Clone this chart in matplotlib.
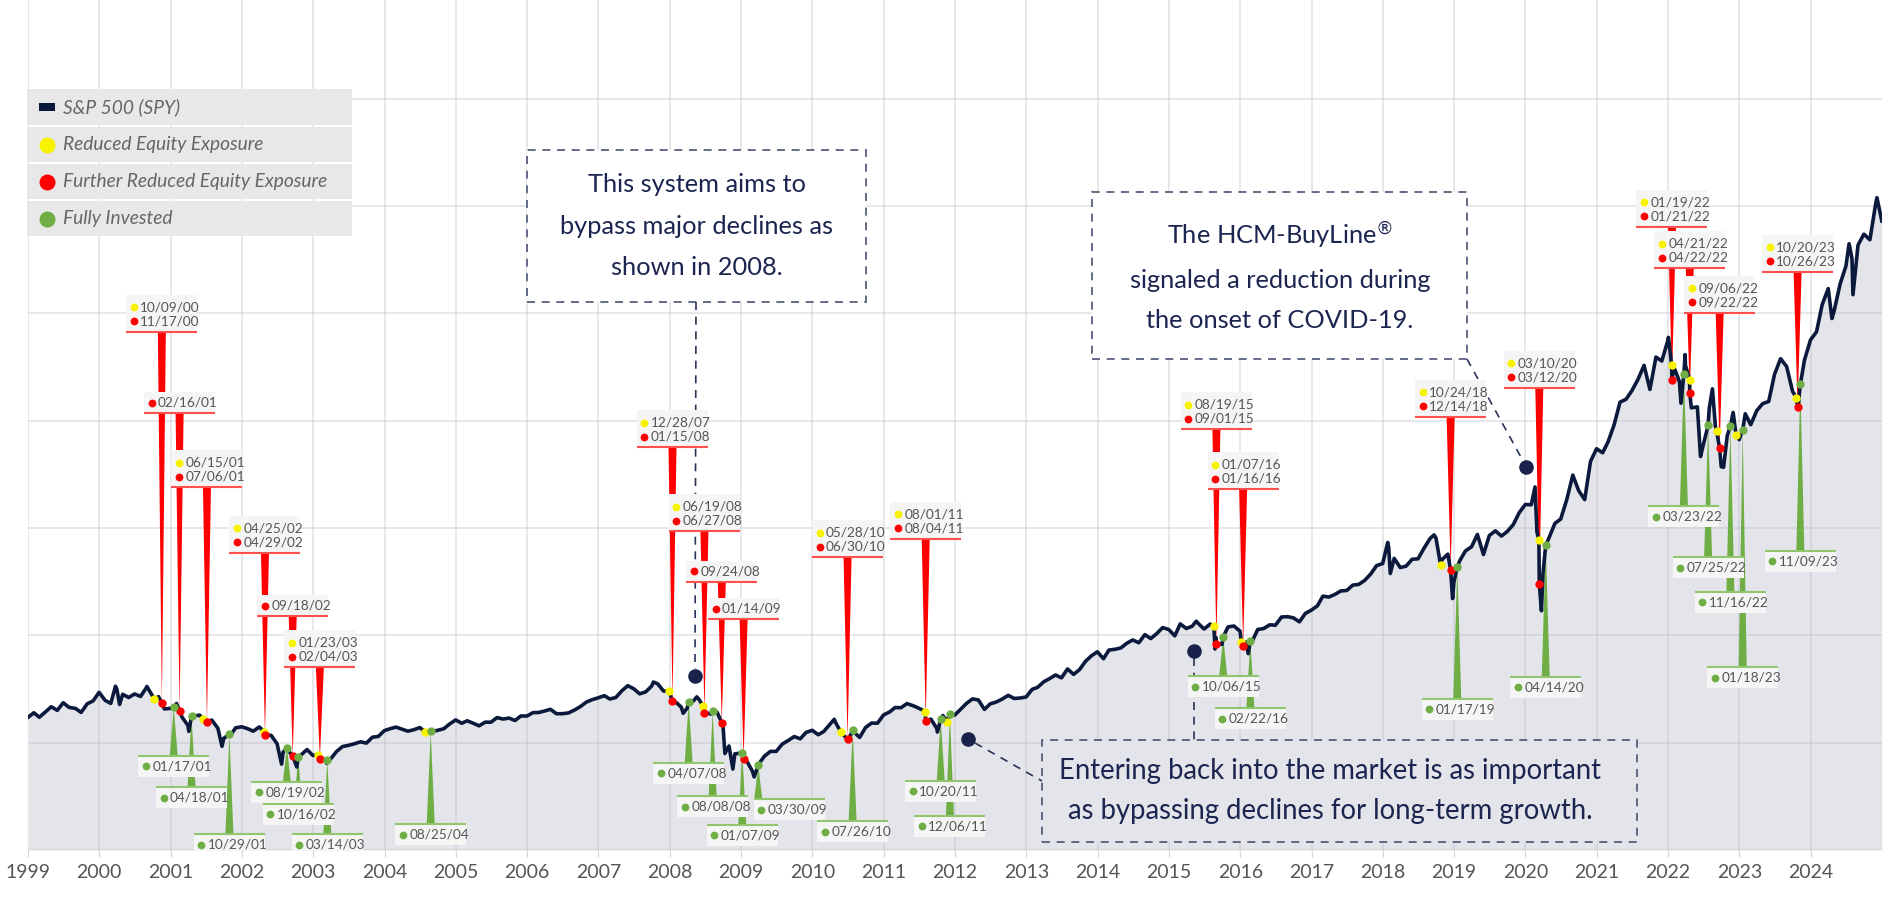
import numpy as np
import pandas as pd
import matplotlib
matplotlib.use('Agg')
import matplotlib.pyplot as plt
from matplotlib.patches import Rectangle, Polygon
from matplotlib.lines import Line2D

plt.rcParams['font.family'] = ['Lato', 'DejaVu Sans']

# ---- S&P 500 (SPY) month-end closes ----
month_end = pd.date_range('1999-01-31', '2024-12-31', freq='ME')
spy_close = [
    127.9, 123.7, 128.6, 133.5, 130.1, 137.2, 132.8, 132.0, 128.2, 136.2, 138.9, 146.9,  # 1999
    139.4, 136.6, 149.9, 145.1, 142.1, 145.4, 143.1, 151.7, 143.6, 142.9, 131.4, 132.0,  # 2000
    136.6, 123.9, 116.0, 124.9, 125.6, 122.4, 121.1, 113.4, 104.1, 106.0, 113.9, 114.8,  # 2001
    113.0, 110.7, 114.7, 107.7, 106.7, 99.0, 91.2, 91.6, 81.5, 88.6, 93.6, 88.0,  # 2002
    85.6, 84.1, 84.8, 91.7, 96.4, 97.5, 99.0, 100.8, 99.6, 105.1, 105.8, 111.2,  # 2003
    113.1, 114.5, 112.6, 110.7, 112.1, 114.1, 110.2, 110.4, 111.5, 113.0, 117.4, 121.2,  # 2004
    118.1, 120.4, 118.1, 115.7, 119.1, 119.1, 123.4, 122.0, 122.9, 120.7, 124.9, 124.8,  # 2005
    128.0, 128.1, 129.5, 131.1, 127.0, 127.0, 127.7, 130.4, 133.6, 137.8, 140.1, 141.8,  # 2006
    143.8, 140.7, 142.1, 148.2, 153.1, 150.3, 145.5, 147.4, 152.7, 154.9, 148.1, 146.8,  # 2007
    137.9, 133.1, 132.3, 138.6, 140.0, 128.0, 126.7, 128.3, 116.6, 96.9, 89.6, 90.3,  # 2008
    82.6, 73.5, 79.8, 87.3, 91.9, 91.9, 98.7, 102.1, 105.7, 103.6, 109.6, 111.5,  # 2009
    107.4, 110.4, 116.9, 118.7, 108.9, 103.1, 110.2, 104.9, 114.1, 118.3, 118.1, 125.8,  # 2010
    128.6, 132.7, 132.6, 136.4, 134.5, 132.1, 129.2, 121.9, 113.2, 125.3, 124.7, 125.8,  # 2011
    131.3, 136.6, 140.8, 139.8, 131.0, 136.2, 137.9, 140.7, 144.1, 141.2, 141.6, 142.6,  # 2012
    149.7, 151.6, 156.7, 159.7, 163.1, 160.4, 168.7, 163.6, 168.0, 175.8, 180.9, 184.7,  # 2013
    178.2, 186.3, 187.0, 188.3, 192.7, 195.7, 193.1, 200.7, 197.0, 201.7, 207.2, 205.5,  # 2014
    199.5, 210.7, 206.4, 208.5, 211.1, 205.9, 210.5, 197.7, 191.6, 207.9, 208.7, 203.9,  # 2015
    193.7, 193.6, 205.5, 206.3, 209.8, 209.5, 217.1, 217.4, 216.3, 212.6, 220.4, 223.5,  # 2016
    227.5, 236.5, 235.7, 238.1, 241.4, 241.8, 246.8, 247.5, 251.2, 257.2, 265.0, 266.9,  # 2017
    281.9, 271.7, 263.2, 264.5, 270.9, 271.3, 281.3, 290.3, 290.7, 270.6, 275.7, 249.9,  # 2018
    270.0, 278.7, 282.5, 294.0, 275.3, 293.0, 297.4, 292.5, 296.8, 303.3, 314.3, 321.9,  # 2019
    321.7, 296.3, 257.8, 290.5, 304.3, 308.4, 326.5, 349.3, 334.9, 326.5, 362.1, 373.9,  # 2020
    370.1, 380.4, 396.3, 417.3, 420.0, 428.1, 438.5, 451.6, 429.1, 459.3, 455.6, 475.0,  # 2021
    449.9, 436.6, 451.6, 412.0, 412.9, 377.3, 412.0, 395.2, 357.2, 386.2, 407.7, 382.4,  # 2022
    406.5, 396.3, 409.4, 415.9, 417.9, 443.3, 457.8, 450.4, 427.5, 418.2, 456.4, 475.3,  # 2023
    482.9, 508.1, 523.1, 502.0, 527.4, 544.2, 550.8, 563.7, 573.8, 568.6, 602.6, 586.1,  # 2024
]

# intra-month highs / lows visible on the line
swing_dates = ['1999-01-04', '2000-03-24', '2000-04-14', '2000-09-01', '2001-04-04',
               '2001-09-21', '2002-07-23', '2002-10-09', '2003-03-11', '2007-10-09',
               '2008-03-10', '2008-05-19', '2008-10-10', '2008-11-20', '2009-03-09',
               '2010-04-23', '2010-07-02', '2011-10-03', '2015-05-21', '2015-08-25',
               '2016-02-11', '2018-01-26', '2018-02-08', '2018-09-20', '2018-12-24',
               '2020-02-19', '2020-03-23', '2022-01-03', '2022-03-08', '2022-03-29',
               '2022-06-16', '2022-08-16', '2022-10-12', '2023-10-27', '2024-04-19',
               '2024-07-16', '2024-08-05', '2024-12-06']
swing_vals = [124.0, 152.6, 135.6, 152.4, 110.5,
              96.6, 80.0, 77.3, 80.7, 156.5,
              127.4, 142.7, 89.9, 75.4, 68.1,
              121.8, 102.1, 109.9, 213.2, 187.3,
              182.9, 286.6, 257.6, 293.6, 234.3,
              338.3, 222.9, 477.7, 416.3, 461.6,
              366.6, 429.7, 356.6, 410.7, 495.2,
              564.9, 517.4, 607.8]

# ---- signals ----
yellow_dates = ['10/09/00', '06/15/01', '04/25/02', '01/23/03', '07/28/04', '12/28/07',
                '06/19/08', '05/28/10', '08/01/11', '11/21/11', '08/19/15', '01/07/16',
                '10/24/18', '03/10/20', '01/19/22', '04/21/22', '09/06/22', '12/15/22',
                '10/20/23']
yellow_vals = [140.5, 121.8, 110.0, 88.9, 110.0, 148.0,
               134.5, 109.5, 128.9, 119.5, 208.5, 194.0,
               265.3, 288.4, 452.0, 438.1, 390.8, 387.0,
               421.2]

red_dates = ['11/17/00', '02/16/01', '07/06/01', '04/29/02', '09/18/02', '02/04/03',
             '01/15/08', '06/27/08', '09/24/08', '01/14/09', '06/30/10', '08/04/11',
             '09/01/15', '01/16/16', '12/14/18', '03/12/20', '01/21/22', '04/22/22',
             '09/22/22', '10/26/23']
red_vals = [136.9, 129.5, 119.5, 106.8, 87.4, 85.1,
            138.5, 128.0, 118.6, 84.4, 103.2, 120.6,
            192.0, 190.0, 260.5, 248.1, 438.0, 426.0,
            374.2, 412.6]

green_dates = ['01/17/01', '04/18/01', '10/29/01', '08/19/02', '10/16/02', '03/14/03',
               '08/25/04', '04/07/08', '08/08/08', '01/07/09', '03/30/09', '07/26/10',
               '10/20/11', '12/06/11', '10/06/15', '02/22/16', '01/17/19', '04/14/20',
               '03/23/22', '07/25/22', '11/16/22', '01/18/23', '11/09/23']
green_vals = [133.0, 124.5, 107.8, 95.5, 86.5, 83.5,
              110.5, 137.9, 129.4, 90.8, 78.8, 111.6,
              121.9, 126.3, 198.8, 194.8, 263.8, 283.9,
              443.8, 395.6, 395.2, 391.5, 433.8]

# labelled call-outs: (yellow date, red date) above the line, green date below
top_labels = [('10/09/00', '11/17/00'), (None, '02/16/01'), ('06/15/01', '07/06/01'),
              ('04/25/02', '04/29/02'), (None, '09/18/02'), ('01/23/03', '02/04/03'),
              ('12/28/07', '01/15/08'), ('06/19/08', '06/27/08'), (None, '09/24/08'),
              (None, '01/14/09'), ('05/28/10', '06/30/10'), ('08/01/11', '08/04/11'),
              ('08/19/15', '09/01/15'), ('01/07/16', '01/16/16'), ('10/24/18', '12/14/18'),
              ('03/10/20', '03/12/20'), ('01/19/22', '01/21/22'), ('04/21/22', '04/22/22'),
              ('09/06/22', '09/22/22'), ('10/20/23', '10/26/23')]
top_label_base = [483, 407, 338, 277, 218, 170.5, 375.5, 297, 250, 215, 273, 290,
                  392, 336, 403.5, 430.5, 580.5, 542, 500.5, 538.6]
bottom_label_top = [87.6, 58.7, 14.9, 63.4, 42.9, 14.9, 24.2, 81.1, 50.3, 23.3, 47.5, 27.0,
                    64.3, 31.7, 162.1, 132.3, 140.7, 161.2, 320.5, 273.0, 240.4, 170.5, 278.6]
# horizontal nudge of a box (pixels) where it would hit its neighbour
bottom_label_dx = [0, 0, 0, 0, 0, 0, 0, 0, 0, 0, 31, 0,
                   0, 0, 0, 0, 0, 0, 0, 0, 0, 0, 0]


def dec_year(d):
    t = pd.Timestamp(d)
    n = 366 if t.is_leap_year else 365
    return t.year + (t.dayofyear - 1) / n


def sig_year(s):
    return dec_year(pd.to_datetime(s, format='%m/%d/%y'))


pts = [(dec_year(d), v) for d, v in zip(month_end, spy_close)]
pts += [(dec_year(d), v) for d, v in zip(swing_dates, swing_vals)]
for dl, vl in [(yellow_dates, yellow_vals), (red_dates, red_vals), (green_dates, green_vals)]:
    pts += [(sig_year(d), v) for d, v in zip(dl, vl)]
pts.sort()
sx = np.array([p[0] for p in pts])
sy = np.array([p[1] for p in pts])

# ---- figure layout (pixels) ----
W, H = 1889, 901
AX_L, AX_R, AX_T, AX_B = 28, 1882, 0, 850
XMIN, XMAX, YMIN, YMAX = 1999.0, 2025.0, 0.0, 792.0
PX_X = (AX_R - AX_L) / (XMAX - XMIN)
PX_Y = (AX_B - AX_T) / (YMAX - YMIN)


def px_x(px):
    return XMIN + (px - AX_L) / PX_X


def px_y(py):
    return YMIN + (AX_B - py) / PX_Y


NAVY = '#0b1a3c'
TXT_NAVY = '#1b2550'
FILL = '#e4e5ea'
YEL, RED, GRN = '#f7f200', '#ff0000', '#6fad45'
DATE_GREY = '#555555'

fig = plt.figure(figsize=(W / 100, H / 100), dpi=100)
ax = fig.add_axes([AX_L / W, 1 - AX_B / H, (AX_R - AX_L) / W, (AX_B - AX_T) / H])
ax.set_xlim(XMIN, XMAX)
ax.set_ylim(YMIN, YMAX)

ax.fill_between(sx, 0, sy, color=FILL, lw=0, zorder=0.2)
ax.plot(sx, sy, color=NAVY, lw=2.6, zorder=3, solid_joinstyle='round')

ax.set_axisbelow(True)
ax.set_xticks(np.arange(1999, 2025))
ax.set_yticks(np.arange(0, 800, 100))
ax.grid(True, color='#b4b4c0', alpha=0.4, lw=1.1)
ax.tick_params(axis='x', length=5, color='#d6d6d6', labelsize=14, labelcolor='#555555', pad=5)
ax.tick_params(axis='y', left=False, labelleft=False)
for s in ax.spines.values():
    s.set_visible(False)

# signal dots on the line
ax.plot([sig_year(d) for d in yellow_dates], yellow_vals, 'o', color=YEL, ms=6.0, mec='none', zorder=4)
ax.plot([sig_year(d) for d in red_dates], red_vals, 'o', color=RED, ms=6.0, mec='none', zorder=4.1)
ax.plot([sig_year(d) for d in green_dates], green_vals, 'o', color=GRN, ms=6.0, mec='none', zorder=4.2)

red_lookup = dict(zip(red_dates, red_vals))
grn_lookup = dict(zip(green_dates, green_vals))


def wedge(xc, edge, tip, color):
    hw = 4.0 / PX_X
    ax.add_patch(Polygon([(xc - hw, edge), (xc + hw, edge), (xc, tip)], closed=True,
                         fc=color, ec='none', zorder=2))


def label_box(xc, edge, rows, line_color, above):
    h = 37 if len(rows) == 2 else 21
    bw, bh = 71 / PX_X, h / PX_Y
    y0 = edge if above else edge - bh
    ax.add_patch(Rectangle((xc - bw / 2, y0), bw, bh, fc='#f5f5f5', ec='none', zorder=6))
    ax.plot([xc - bw / 2, xc + bw / 2], [edge, edge], color=line_color, lw=1.5,
            solid_capstyle='butt', zorder=7)
    for i, (c, txt) in enumerate(rows):
        off = (12.5 + 14 * i) if len(rows) == 2 else 10.5
        yy = y0 + bh - off / PX_Y
        ax.plot(xc - bw / 2 + 7.5 / PX_X, yy, 'o', color=c, ms=5.6, mec='none', zorder=7)
        ax.text(xc - bw / 2 + 14 / PX_X, yy, txt, fontsize=9.8, color=DATE_GREY,
                va='center', ha='left', zorder=7)


for (yd, rd), base in zip(top_labels, top_label_base):
    xc = sig_year(rd)
    wedge(xc, base, red_lookup[rd], RED)
    rows = ([(YEL, yd)] if yd else []) + [(RED, rd)]
    label_box(xc, base, rows, '#ff5050', above=True)

for gd, top, dx in zip(green_dates, bottom_label_top, bottom_label_dx):
    xc = sig_year(gd)
    wedge(xc, top, grn_lookup[gd], GRN)
    label_box(xc + dx / PX_X, top, [(GRN, gd)], '#92c66e', above=False)

# ---- text annotations ----
DASH = (0, (4.8, 4.0))


def note_box(l, t, r, b, fc, lines, cx, baselines, size):
    ax.add_patch(Rectangle((px_x(l), px_y(b)), (r - l) / PX_X, (b - t) / PX_Y, fc=fc,
                           ec='#4a5374', lw=1.2, ls=DASH, zorder=1))
    for s, bl in zip(lines, baselines):
        ax.text(px_x(cx), px_y(bl), s, fontsize=size, color=TXT_NAVY, ha='center',
                va='baseline', zorder=1.2)


def note_link(x0, y0, x1, y1):
    ax.plot([px_x(x0), px_x(x1)], [px_y(y0), px_y(y1)], color='#2a3358', lw=1.2, ls=DASH, zorder=1.1)


def note_dot(x, y):
    ax.plot(px_x(x), px_y(y), 'o', color='#18224a', ms=10.5, mec='none', zorder=5)


note_box(527, 150, 866, 302, 'white',
         ['This system aims to', 'bypass major declines as', 'shown in 2008.'],
         697, [192, 234, 275], 18.3)
note_link(696, 302, 695, 669)
note_dot(695, 676)

note_box(1092, 192, 1467, 359, 'white',
         [r'The HCM-BuyLine$^{\circledR}$', 'signaled a reduction during',
          'the onset of COVID-19.'],
         1280, [245, 288, 328], 18.3)
note_link(1467, 359, 1522, 459)
note_dot(1526, 467)

note_box(1042, 740, 1637, 842, FILL,
         ['Entering back into the market is as important',
          'as bypassing declines for long-term growth.'],
         1330, [779, 819], 19.8)
note_link(1194, 658, 1194, 740)
note_dot(1194, 651)
note_link(975, 743, 1042, 781)
note_dot(968, 739)

# ---- legend ----
def fx(px):
    return px / W


def fy(py):
    return 1 - py / H


legend_labels = ['S&P 500 (SPY)', 'Reduced Equity Exposure',
                 'Further Reduced Equity Exposure', 'Fully Invested']
legend_rows = [(89, 125), (127, 162), (164, 199), (201, 236)]
legend_colors = [NAVY, YEL, RED, GRN]
for i, (lab, (r0, r1), c) in enumerate(zip(legend_labels, legend_rows, legend_colors)):
    fig.add_artist(Rectangle((fx(27), fy(r1)), (352 - 27) / W, (r1 - r0) / H,
                             transform=fig.transFigure, fc='#e8e8e8', ec='none', zorder=10))
    yc = (r0 + r1) / 2
    if i == 0:
        fig.add_artist(Rectangle((fx(39), fy(yc + 4)), 16 / W, 8 / H,
                                 transform=fig.transFigure, fc=c, ec='none', zorder=11))
    else:
        fig.add_artist(Line2D([fx(47)], [fy(yc)], marker='o', ms=11.5, color=c, mec='none',
                              transform=fig.transFigure, zorder=11))
    fig.text(fx(63), fy(yc), lab, fontsize=13.8, style='italic', color='#666666',
             va='center', ha='left', zorder=12)

fig.savefig('out.png', dpi=100)
